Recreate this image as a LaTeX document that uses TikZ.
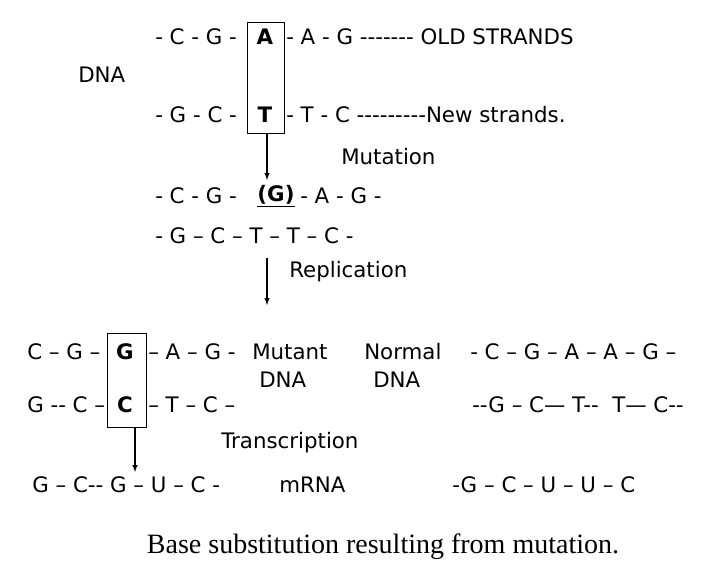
\documentclass[tikz,border=0pt]{standalone}
\usepackage{fontspec}
\setmainfont{Liberation Serif}
\newfontfamily\dv{DejaVu Sans}
\begin{document}
\begin{tikzpicture}[x=0.75pt,y=-0.75pt,
  t/.style={font=\dv\fontsize{16}{18}\selectfont, inner sep=0, anchor=west},
  b/.style={font=\dv\bfseries\fontsize{16}{18}\selectfont, inner sep=0},
  arr/.style={-latex, thick}]
\useasboundingbox (0,0) rectangle (719,570);
% top
\node[t] (r1a) at (155,37) {- C - G -};
\node[b] (A) at (265,37) {A};
\node[t] (r1b) at (286,37) {- A - G ------- OLD STRANDS};
\node[t] (dna) at (78,75) {DNA};
\node[t] (r2a) at (155,115) {- G - C -};
\node[b] (T) at (265,115) {T};
\node[t] (r2b) at (286,115) {- T - C ---------New strands.};
\draw (247,22) rectangle (284,133);
\coordinate (m1) at (267,180);
\draw[arr] (267,133) -- (m1);
\node[t] (mut) at (341,157) {Mutation};
\node[t] (r3a) at (155,196) {- C - G -};
\node[b] (GG) at (276,196) {\underline{(G)}};
\node[t] (r3b) at (300,196) {- A - G -};
\node[t] (r4) at (155,236) {- G – C – T – T – C -};
\coordinate (a2s) at (267,258);
\coordinate (a2e) at (267,305);
\draw[arr] (a2s) -- (a2e);
\node[t] (rep) at (289,272) {Replication};
% middle
\node[t] (r5a) at (27,352) {C – G –};
\node[b] (G2) at (125,352) {G};
\node[t] (r5b) at (148,352) {– A – G -};
\node[t] (mut2) at (252,352) {Mutant};
\node[t] (dna2) at (259,380) {DNA};
\node[t] (nor) at (364,352) {Normal};
\node[t] (dna3) at (373,380) {DNA};
\node[t] (r5c) at (470,352) {- C – G – A – A – G –};
\node[t] (r6a) at (27,405) {G -- C –};
\node[b] (C2) at (125,405) {C};
\node[t] (r6b) at (148,405) {– T – C –};
\node[t] (r6c) at (472,405) {--G – C— T-- \ T— C--};
\draw (107,333) rectangle (146,427);
\coordinate (a3e) at (135,472);
\draw[arr] (135,427) -- (a3e);
\node[t] (tr) at (221,443) {Transcription};
\node[t] (r7) at (32,485) {G – C-- G – U – C -};
\node[t] (mrna) at (279,485) {mRNA};
\node[t] (r7c) at (452,485) {-G – C – U – U – C};
\node[font=\fontsize{21}{25}\selectfont, inner sep=0] (cap) at (383,547) {Base substitution resulting from mutation.};
\end{tikzpicture}
\end{document}
